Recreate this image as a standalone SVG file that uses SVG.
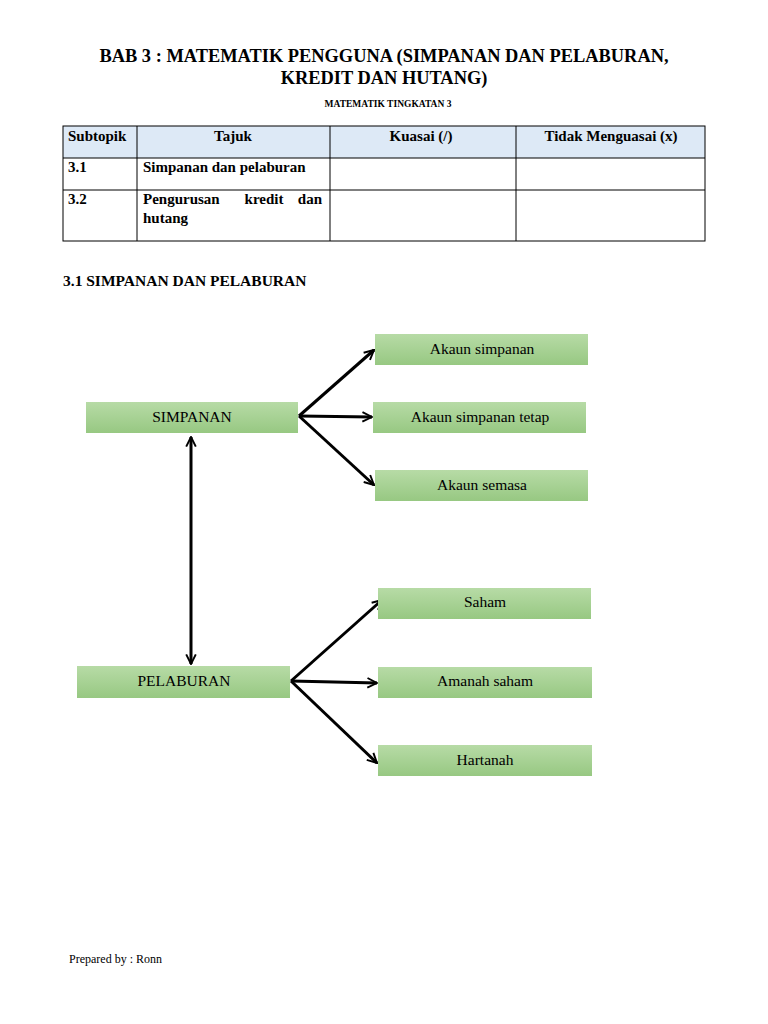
<svg xmlns="http://www.w3.org/2000/svg" width="768" height="1024" viewBox="0 0 768 1024" font-family="'Liberation Serif', 'DejaVu Serif', serif">
<style>
text{font-family:'Liberation Serif','DejaVu Serif',serif;fill:#000}
.t{font-weight:bold;font-size:18.4px;text-anchor:middle}
.h{font-weight:bold;font-size:15px}
.b{font-size:15.5px;text-anchor:middle}
.box{fill:url(#g)}
.grid{stroke:#000;stroke-width:1;fill:none}
.c{stroke:#000;stroke-width:3;fill:none}
</style>
<defs>
<linearGradient id="g" x1="0" y1="0" x2="0" y2="1">
<stop offset="0" stop-color="#b7dba6"/>
<stop offset="1" stop-color="#97c882"/>
</linearGradient>
<marker id="a" viewBox="0 0 10 10" refX="9" refY="5" markerWidth="4" markerHeight="4" orient="auto-start-reverse" markerUnits="strokeWidth">
<path d="M1,1 L9,5 L1,9" fill="none" stroke="#000" stroke-width="1.6" stroke-linejoin="miter"/>
</marker>
</defs>
<rect width="768" height="1024" fill="#fff"/>
<text class="t" x="384" y="62">BAB 3 : MATEMATIK PENGGUNA (SIMPANAN DAN PELABURAN,</text>
<text class="t" x="384" y="84">KREDIT DAN HUTANG)</text>
<text x="388" y="107" style="font-size:9.5px;font-weight:bold;text-anchor:middle">MATEMATIK TINGKATAN 3</text>
<g id="table">
<rect x="63" y="126" width="642" height="32" fill="#dde9f6"/>
<rect x="63" y="126" width="642" height="115" class="grid"/>
<line x1="63" y1="158" x2="705" y2="158" class="grid"/>
<line x1="63" y1="190" x2="705" y2="190" class="grid"/>
<line x1="137" y1="126" x2="137" y2="241" class="grid"/>
<line x1="330" y1="126" x2="330" y2="241" class="grid"/>
<line x1="516" y1="126" x2="516" y2="241" class="grid"/>
<text class="h" x="68" y="141">Subtopik</text>
<text class="h" x="233" y="141" text-anchor="middle">Tajuk</text>
<text class="h" x="421" y="141" text-anchor="middle">Kuasai (/)</text>
<text class="h" x="611" y="141" text-anchor="middle">Tidak Menguasai (x)</text>
<text class="h" x="68" y="172">3.1</text>
<text class="h" x="143" y="172">Simpanan dan pelaburan</text>
<text class="h" x="68" y="204">3.2</text>
<text class="h" x="143" y="204">Pengurusan</text>
<text class="h" x="264" y="204" text-anchor="middle">kredit</text>
<text class="h" x="322" y="204" text-anchor="end">dan</text>
<text class="h" x="143" y="223">hutang</text>
</g>
<text class="h" x="63" y="286" style="font-size:15.5px">3.1 SIMPANAN DAN PELABURAN</text>
<g id="connectors">
<line x1="299" y1="416" x2="374" y2="350" class="c" marker-end="url(#a)"/>
<line x1="299" y1="416" x2="372" y2="417" class="c" marker-end="url(#a)"/>
<line x1="299" y1="416" x2="374" y2="485" class="c" marker-end="url(#a)"/>
<line x1="191" y1="437" x2="191" y2="664" class="c" marker-start="url(#a)" marker-end="url(#a)"/>
<line x1="291" y1="681" x2="382" y2="600" class="c" marker-end="url(#a)"/>
<line x1="291" y1="681" x2="377" y2="683" class="c" marker-end="url(#a)"/>
<line x1="291" y1="681" x2="377" y2="763" class="c" marker-end="url(#a)"/>
</g>
<g id="simpanan"><rect class="box" x="86" y="402" width="212" height="31"/><text class="b" x="192" y="422">SIMPANAN</text></g>
<g id="akaun-simpanan"><rect class="box" x="375" y="334" width="213" height="31"/><text class="b" x="482" y="354">Akaun simpanan</text></g>
<g id="akaun-simpanan-tetap"><rect class="box" x="373" y="402" width="213" height="31"/><text class="b" x="480" y="422">Akaun simpanan tetap</text></g>
<g id="akaun-semasa"><rect class="box" x="375" y="470" width="213" height="31"/><text class="b" x="482" y="490">Akaun semasa</text></g>
<g id="pelaburan"><rect class="box" x="77" y="666" width="213" height="32"/><text class="b" x="184" y="686">PELABURAN</text></g>
<g id="saham"><rect class="box" x="378" y="588" width="213" height="31"/><text class="b" x="485" y="607">Saham</text></g>
<g id="amanah-saham"><rect class="box" x="378" y="667" width="214" height="31"/><text class="b" x="485" y="686">Amanah saham</text></g>
<g id="hartanah"><rect class="box" x="378" y="745" width="214" height="31"/><text class="b" x="485" y="765">Hartanah</text></g>
<text x="69" y="963" style="font-size:12px">Prepared by : Ronn</text>
</svg>
